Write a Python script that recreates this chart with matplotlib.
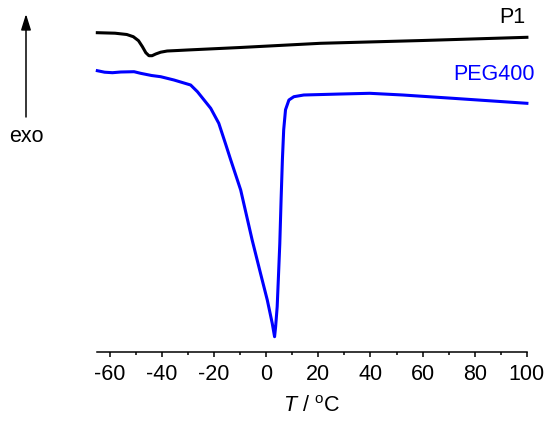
import matplotlib
matplotlib.use('Agg')
import matplotlib.pyplot as plt
from matplotlib.ticker import MultipleLocator

plt.rcParams['font.family'] = ['Liberation Sans', 'DejaVu Sans']
plt.rcParams['mathtext.fontset'] = 'custom'
plt.rcParams['mathtext.it'] = 'Liberation Sans:italic'
plt.rcParams['mathtext.rm'] = 'Liberation Sans'
plt.rcParams['axes.unicode_minus'] = False

# DSC traces (heat flow in arbitrary units, exo up)
p1_temp = [-64.8, -58.0, -53.5, -51.0, -49.0, -47.5, -46.2, -45.0, -43.8,
           -42.4, -40.5, -38.0, -34.0, -30.3, -10.0, 20.8, 60.0, 100.0]
p1_flow = [31.90, 31.85, 31.72, 31.50, 31.10, 30.50, 29.90, 29.60, 29.60,
           29.77, 29.95, 30.07, 30.12, 30.17, 30.42, 30.84, 31.12, 31.44]

peg_temp = [-64.8, -62.0, -59.0, -55.8, -50.7, -48.2, -44.0, -40.5, -35.4,
            -29.0, -26.4, -21.3, -18.2, -15.6, -13.7, -9.8, -5.4, -2.2,
            0.4, 2.3, 3.2, 3.6, 4.2, 4.7, 5.2, 5.7, 6.2, 6.7, 7.4, 8.7,
            10.6, 14.4, 28.5, 39.7, 52.4, 71.6, 100.0]
peg_flow = [28.10, 27.95, 27.90, 27.97, 28.00, 27.84, 27.62, 27.50, 27.17,
            26.67, 26.00, 24.34, 22.84, 20.78, 19.24, 16.17, 11.17, 7.84,
            5.17, 2.84, 1.50, 2.50, 4.50, 7.60, 10.80, 15.20, 19.20, 22.20,
            24.20, 25.17, 25.50, 25.67, 25.77, 25.84, 25.67, 25.34, 24.84]

x_ticks = [-60, -40, -20, 0, 20, 40, 60, 80, 100]

fig = plt.figure(figsize=(5.5, 4.24), dpi=100)
ax = fig.add_axes([0.176, 0.1705, 0.782, 0.8295])

ax.plot(p1_temp, p1_flow, color='black', lw=2.2, clip_on=False,
        solid_joinstyle='round')
ax.plot(peg_temp, peg_flow, color='#0000ff', lw=2.2, clip_on=False,
        solid_joinstyle='round')

ax.set_xlim(-65, 100)
ax.set_ylim(0, 35.17)
ax.set_xticks(x_ticks)
ax.xaxis.set_minor_locator(MultipleLocator(10))
ax.set_yticks([])
for side in ['left', 'right', 'top']:
    ax.spines[side].set_visible(False)
ax.spines['bottom'].set_linewidth(1.1)
ax.tick_params(axis='x', which='major', direction='out', length=3.6, width=1.1,
               pad=5, labelsize=15.5)
ax.tick_params(axis='x', which='minor', direction='out', length=2.0, width=1.1)
ax.set_xlabel(r'$T$ / $\mathregular{^o}$C', fontsize=15.5, labelpad=8)

fig.text(525 / 550, 1 - 17.5 / 424, 'P1', ha='right', va='center',
         fontsize=15.5)
fig.text(535 / 550, 1 - 74 / 424, 'PEG400', ha='right', va='center',
         fontsize=15.5, color='#0000ff')

# exo arrow
ax.annotate('', xy=(26 / 550, 1 - 14 / 424), xytext=(26 / 550, 1 - 117 / 424),
            xycoords='figure fraction', textcoords='figure fraction',
            arrowprops=dict(arrowstyle='-|>,head_length=0.8,head_width=0.25',
                            color='black', lw=1.1, mutation_scale=12,
                            shrinkA=0, shrinkB=0))
fig.text(26 / 550, 1 - 137 / 424, 'exo', ha='center', va='center',
         fontsize=15.5)

fig.savefig('out.png', dpi=100)
